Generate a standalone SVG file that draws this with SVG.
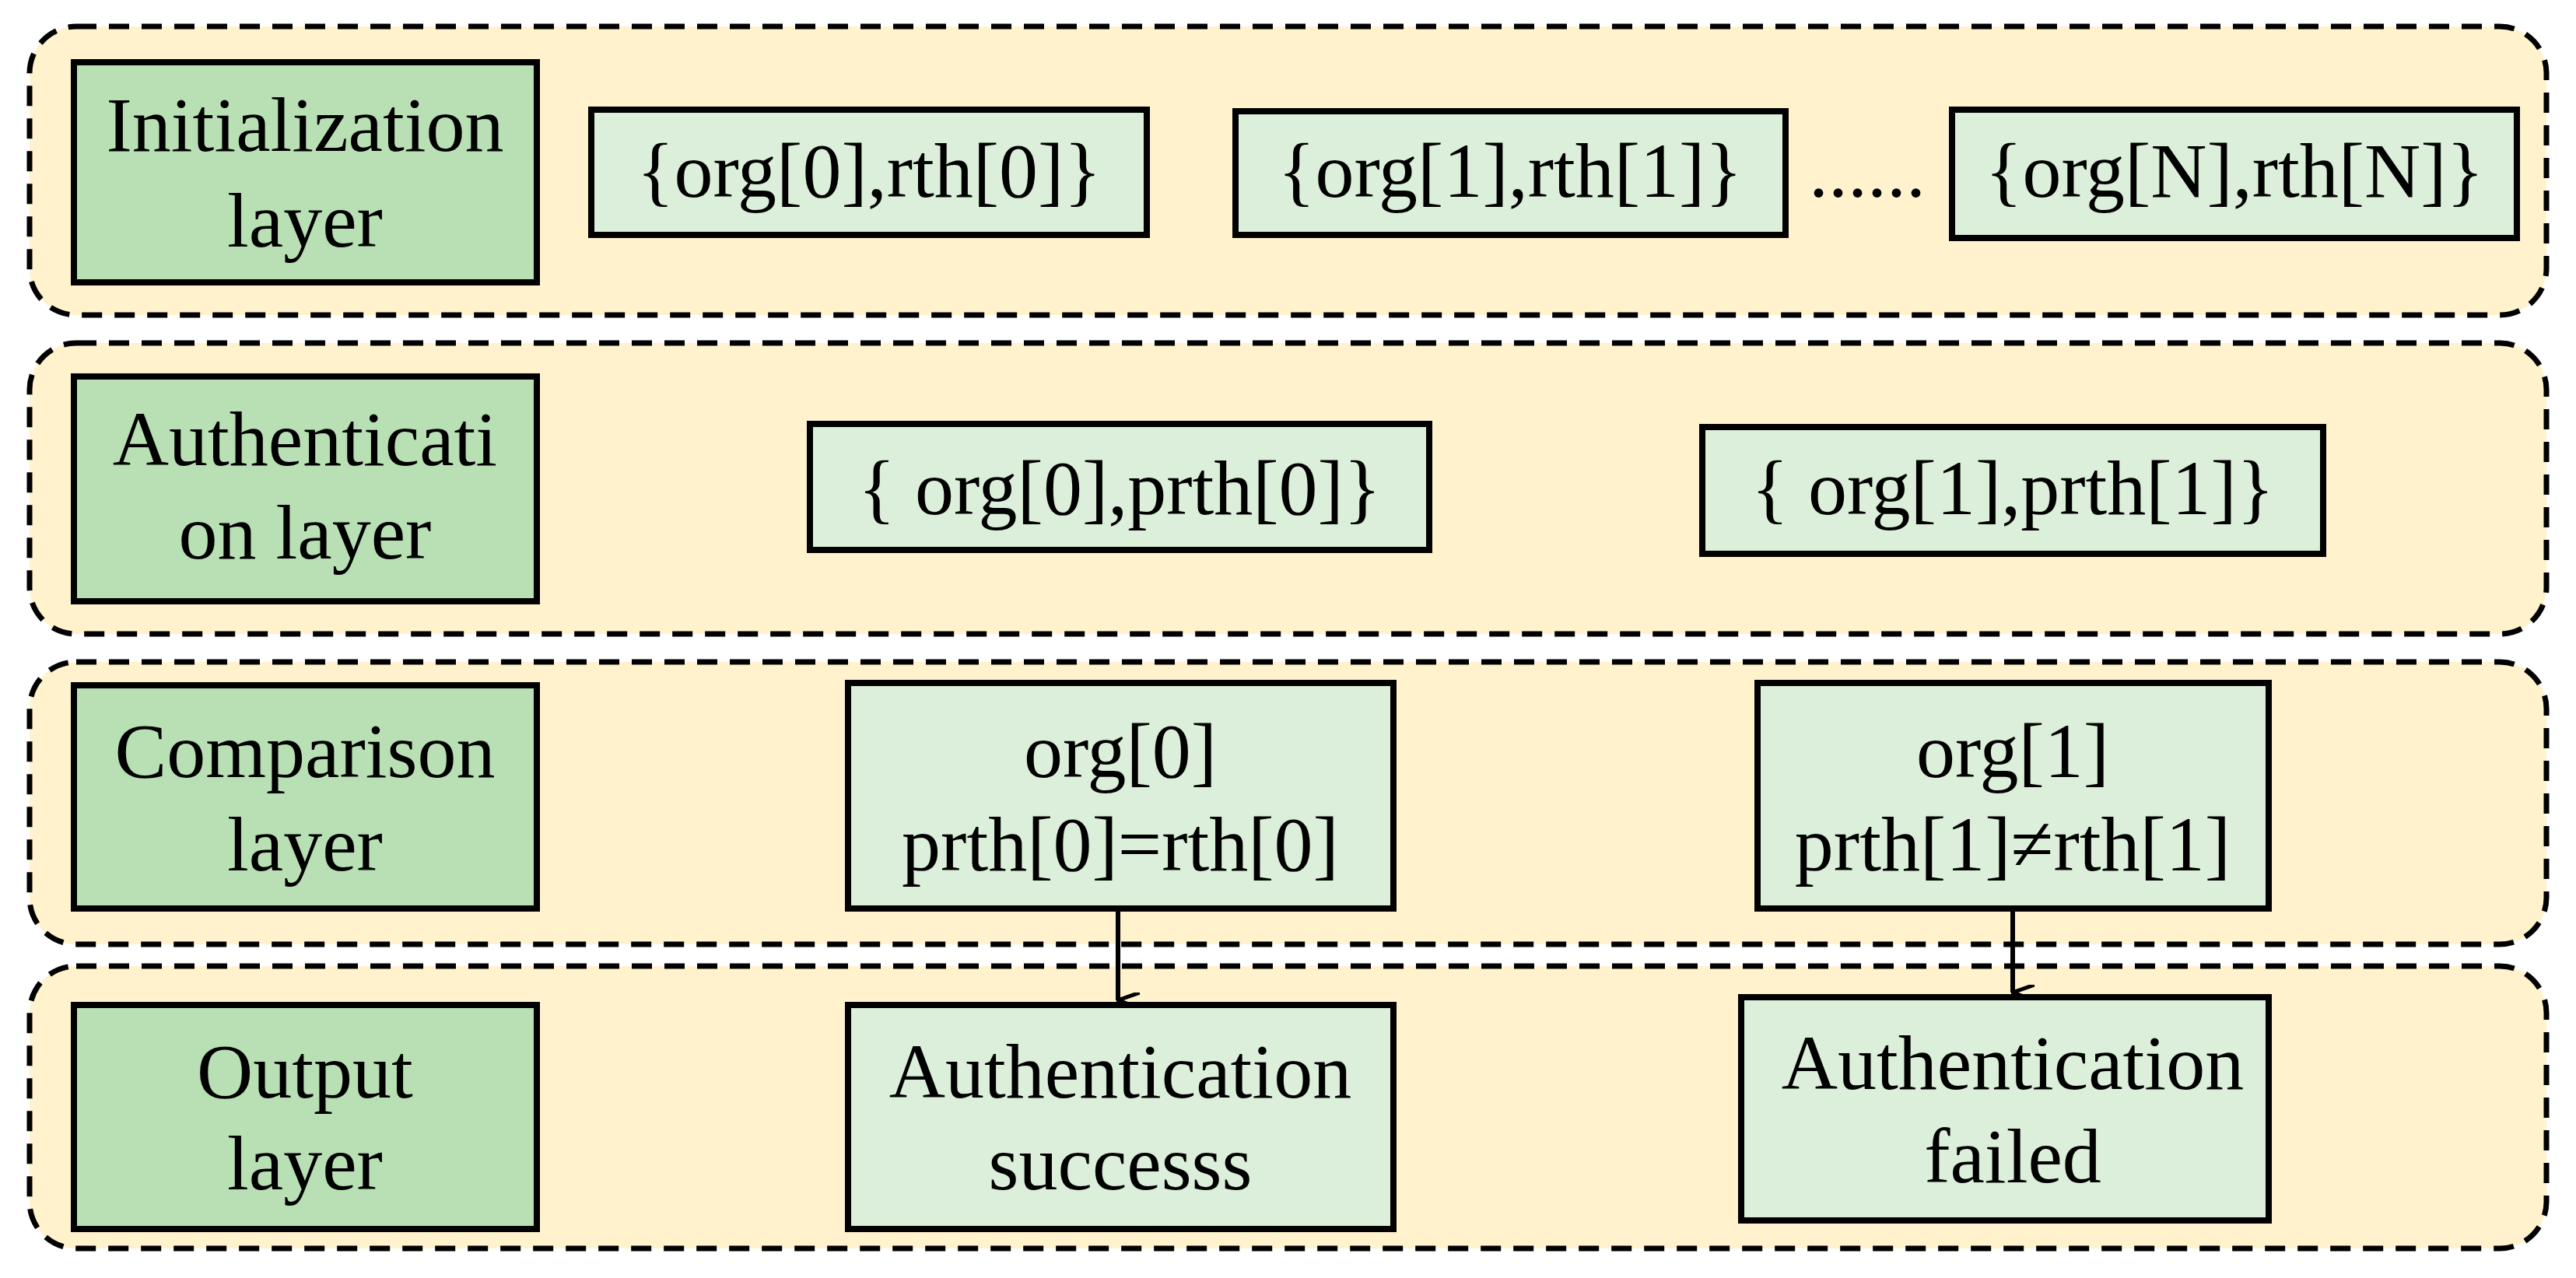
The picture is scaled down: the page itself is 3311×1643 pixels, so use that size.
<svg xmlns="http://www.w3.org/2000/svg" width="3311" height="1643" viewBox="0 0 3311 1643">
<defs>
<style>
.layer{fill:#FFF2CC;stroke:#000;stroke-width:7;stroke-dasharray:26 16}
.lab{fill:#B9E0B4;stroke:#000;stroke-width:8}
.box{fill:#DCEFDA;stroke:#000;stroke-width:8}
text{font-family:"Liberation Serif","Times New Roman",serif;font-size:100px;fill:#000;text-anchor:middle}
.con{stroke:#000;stroke-width:6;fill:none}
</style>
<marker id="ah" viewBox="0 0 20 30" refX="10" refY="28" markerWidth="20" markerHeight="30" markerUnits="userSpaceOnUse" orient="auto-start-reverse">
<path d="M0 0 L10 28 L20 0" fill="none" stroke="#000" stroke-width="5"/>
</marker>
</defs>
<rect width="3311" height="1643" fill="#fff"/>
<g id="layer1"><rect class="layer" x="38" y="34" width="3235" height="371" rx="60"/>
<rect class="lab" x="95" y="80" width="595" height="283"/><text x="392" y="194">Initialization</text><text x="392" y="317">layer</text></g>
<g id="n1"><rect class="box" x="760" y="141" width="714" height="161"/><text x="1117" y="253">{org[0],rth[0]}</text></g>
<g id="n2"><rect class="box" x="1588" y="143" width="707" height="159"/><text x="1941" y="253">{org[1],rth[1]}</text></g>
<text x="2400" y="253">......</text>
<g id="n3"><rect class="box" x="2509" y="141" width="726" height="165"/><text x="2872" y="253">{org[N],rth[N]}</text></g>
<g id="layer2"><rect class="layer" x="38" y="441" width="3235" height="374" rx="60"/>
<rect class="lab" x="95" y="484" width="595" height="289"/><text x="392" y="598">Authenticati</text><text x="392" y="718">on layer</text></g>
<g id="n4"><rect class="box" x="1041" y="545" width="796" height="162"/><text x="1439" y="661">{ org[0],prth[0]}</text></g>
<g id="n5"><rect class="box" x="2188" y="549" width="798" height="163"/><text x="2587" y="661">{ org[1],prth[1]}</text></g>
<g id="layer3"><rect class="layer" x="38" y="851" width="3235" height="363" rx="60"/>
<rect class="lab" x="95" y="881" width="595" height="287"/><text x="392" y="999">Comparison</text><text x="392" y="1119">layer</text></g>
<g id="n6"><rect class="box" x="1090" y="878" width="701" height="290"/><text x="1440" y="999">org[0]</text><text x="1440" y="1119">prth[0]=rth[0]</text></g>
<g id="n7"><rect class="box" x="2259" y="878" width="657" height="290"/><text x="2587" y="999">org[1]</text><text x="2587" y="1119">prth[1]≠rth[1]</text></g>
<g id="layer4"><rect class="layer" x="38" y="1242" width="3235" height="363" rx="60"/>
<rect class="lab" x="95" y="1292" width="595" height="288"/><text x="392" y="1411">Output</text><text x="392" y="1529">layer</text></g>
<g id="n8"><rect class="box" x="1090" y="1292" width="701" height="288"/><text x="1440" y="1411">Authentication</text><text x="1440" y="1529">successs</text></g>
<g id="n9"><rect class="box" x="2238" y="1282" width="678" height="287"/><text x="2587" y="1400">Authentication</text><text x="2587" y="1520">failed</text></g>
<g id="connectors">
<line class="con" x1="1437" y1="1172" x2="1437" y2="1286" marker-end="url(#ah)"/>
<line class="con" x1="2587" y1="1172" x2="2587" y2="1276" marker-end="url(#ah)"/>
</g>
</svg>
